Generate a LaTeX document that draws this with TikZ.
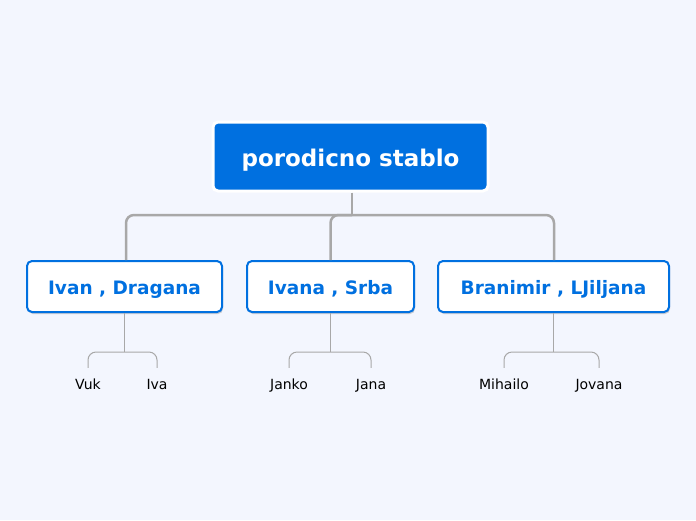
\documentclass[tikz,border=0pt]{standalone}
\usepackage{fontspec}
\setmainfont{DejaVu Sans}
\usetikzlibrary{shadows}
\definecolor{mapblue}{HTML}{0070E0}
\definecolor{mapbg}{HTML}{F3F6FE}
\definecolor{mapgrey}{HTML}{A8A8A8}
\begin{document}
\begin{tikzpicture}[x=1pt,y=-1pt]
	\tikzset{root/.style = {shape=rectangle,rounded corners=5pt,fill=mapblue,draw=white,line width=3pt,
			text=white,font=\fontsize{23}{27}\selectfont\bfseries,text height=20pt,text depth=0pt,
			minimum width=275pt,minimum height=69pt}}
	\tikzset{family/.style = {shape=rectangle,rounded corners=5pt,fill=white,draw=mapblue,line width=2pt,
			text=mapblue,font=\fontsize{18.5}{22}\selectfont\bfseries,text height=16pt,text depth=0pt,
			minimum height=51pt,drop shadow={opacity=0.35,shadow xshift=1pt,shadow yshift=-2pt}}}
	\tikzset{leaf/.style = {font=\fontsize{14}{17}\selectfont,text height=13pt,text depth=3pt,
			inner xsep=2pt,inner ysep=8pt}}
	\tikzset{trunk/.style = {draw=mapgrey,line width=2.5pt,rounded corners=8pt}}
	\tikzset{twig/.style = {draw=mapgrey,line width=1pt,rounded corners=8pt}}
	\fill[mapbg] (0,0) rectangle (696,520);
	\useasboundingbox (0,0) rectangle (696,520);
	% vertices
	\node[root] (root) at (350.5,156.5) {porodicno stablo};
	\node[family, minimum width=195pt] (ivan) at (124.5,286.5) {Ivan , Dragana};
	\node[family, minimum width=167pt] (ivana) at (330.5,286.5) {Ivana , Srba};
	\node[family, minimum width=231pt] (branimir) at (553.5,286.5) {Branimir , LJiljana};
	\node[leaf] (vuk) at (88,384) {Vuk};
	\node[leaf] (iva) at (157,384) {Iva};
	\node[leaf] (janko) at (289,384) {Janko};
	\node[leaf] (jana) at (371,384) {Jana};
	\node[leaf] (mihailo) at (504,384) {Mihailo};
	\node[leaf] (jovana) at (599,384) {Jovana};
	%edges
	\coordinate (fork) at (352,215);
	\draw[trunk] (root.south -| fork) -- (fork);
	\draw[trunk] ([xshift=1.5pt]ivan.north) |- (fork) -| ([xshift=0.5pt]branimir.north);
	\draw[trunk] (ivana.north) |- (fork);
	%brackets
	\draw[twig] (ivan.south) -- ++(0,39);
	\draw[twig] (vuk.north) |- ([yshift=-39pt]ivan.south) -| (iva.north);
	\draw[twig] (ivana.south) -- ++(0,39);
	\draw[twig] (janko.north) |- ([yshift=-39pt]ivana.south) -| (jana.north);
	\draw[twig] (branimir.south) -- ++(0,39);
	\draw[twig] (mihailo.north) |- ([yshift=-39pt]branimir.south) -| (jovana.north);
\end{tikzpicture}
\end{document}
